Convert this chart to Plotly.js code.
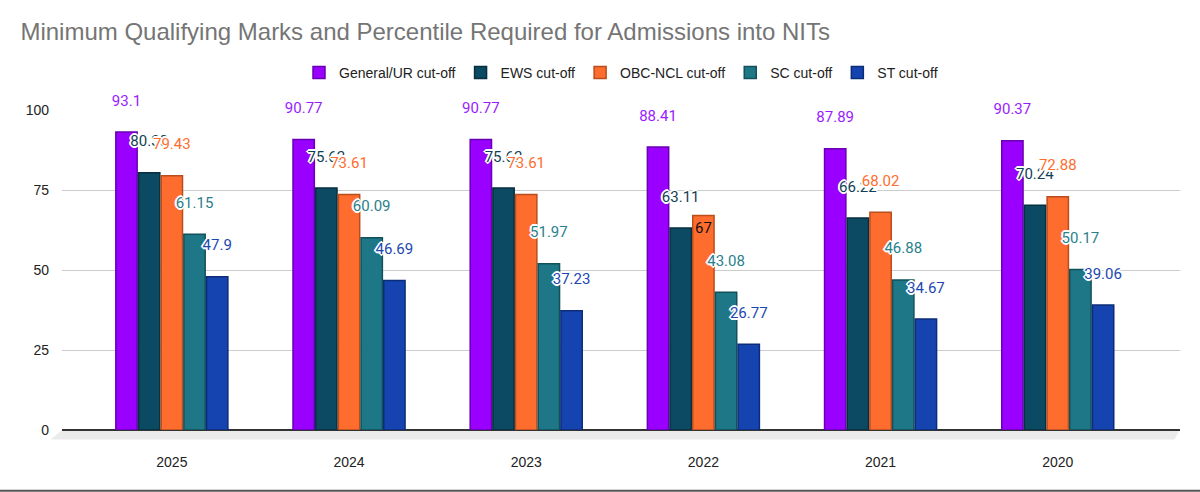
<!DOCTYPE html>
<html>
<head>
<meta charset="utf-8">
<script src="https://cdn.plot.ly/plotly-3.0.1.min.js"></script>
<style>
  body { margin: 0; background: #fff; }
  #grafica { width: 1200px; height: 492px; }
</style>
</head>
<body>
<div id="grafica"></div>
<script>
const anios = ["2025", "2024", "2023", "2022", "2021", "2020"];

const general = [93.1, 90.77, 90.77, 88.41, 87.89, 90.37];
const ews = [80.38, 75.62, 75.62, 63.11, 66.22, 70.24];
const obc = [79.43, 73.61, 73.61, 67, 68.02, 72.88];
const sc = [61.15, 60.09, 51.97, 43.08, 46.88, 50.17];
const st = [47.9, 46.69, 37.23, 26.77, 34.67, 39.06];

const series = [
  { nombre: "General/UR cut-off", valores: general, color: "#9900ff", borde: "#6a00b3", texto: "#9a1cff" },
  { nombre: "EWS cut-off", valores: ews, color: "#0b4a62", borde: "#062f3f", texto: "#123f55" },
  { nombre: "OBC-NCL cut-off", valores: obc, color: "#ff6d2e", borde: "#b84d1e", texto: "#ff6d2e" },
  { nombre: "SC cut-off", valores: sc, color: "#1e7786", borde: "#12515b", texto: "#2a7f8c" },
  { nombre: "ST cut-off", valores: st, color: "#1544b0", borde: "#0c2c78", texto: "#1c47b0" }
];

// halo blanco alrededor de las etiquetas
const halo = "1px 1px 0 #fff, -1px -1px 0 #fff, 1px -1px 0 #fff, -1px 1px 0 #fff, 2px 0 0 #fff, -2px 0 0 #fff, 0 2px 0 #fff, 0 -2px 0 #fff";

const trazas = series.map(s => {
  // en el original la etiqueta OBC de 2022 va dentro de la barra, en negro
  const dentro = s.nombre === "OBC-NCL cut-off";
  return {
    type: "bar",
    name: s.nombre,
    x: anios,
    y: s.valores,
    marker: { color: s.color, line: { color: s.borde, width: 1.5 } },
    text: s.valores.map(v => String(v)),
    texttemplate: anios.map((a, i) => (dentro && a === "2022") ? "%{text}" : "%{text}<br> "),
    textposition: anios.map(a => (dentro && a === "2022") ? "inside" : "outside"),
    insidetextanchor: "end",
    constraintext: "none",
    cliponaxis: false,
    textfont: { family: "Roboto, Arial, sans-serif", size: 15, color: s.texto, shadow: halo },
    insidetextfont: { family: "Roboto, Arial, sans-serif", size: 15, color: "#111", shadow: "none" },
    hoverinfo: "none"
  };
});

const layout = {
  width: 1200,
  height: 492,
  paper_bgcolor: "#fff",
  plot_bgcolor: "#fff",
  font: { family: "Liberation Sans, Arial, sans-serif", size: 14, color: "#222" },
  title: {
    text: "Minimum Qualifying Marks and Percentile Required for Admissions into NITs",
    x: 0.017,
    xanchor: "left",
    y: 0.935,
    yanchor: "middle",
    font: { family: "Liberation Sans, Arial, sans-serif", size: 24, color: "#757575" }
  },
  showlegend: true,
  legend: {
    orientation: "h",
    x: 0.5,
    xanchor: "center",
    y: 1.116,
    yanchor: "middle",
    font: { size: 14, color: "#222" },
    traceorder: "normal"
  },
  barmode: "group",
  bargap: 0.36,
  bargroupgap: 0.06,
  margin: { t: 110, b: 62, l: 62, r: 20 },
  xaxis: {
    type: "category",
    range: [-0.62, 5.69],
    showgrid: false,
    showline: false,
    ticks: "",
    ticklabelstandoff: 22,
    tickfont: { size: 14, color: "#222" }
  },
  yaxis: {
    range: [0, 100],
    tickvals: [0, 25, 50, 75, 100],
    showgrid: true,
    gridcolor: "#cccccc",
    gridwidth: 1,
    zeroline: true,
    zerolinecolor: "#333333",
    zerolinewidth: 1.5,
    ticks: "",
    ticklabelstandoff: 12,
    tickfont: { size: 14, color: "#222" }
  },
  shapes: [
    {
      type: "path",
      xref: "paper", yref: "paper",
      path: "M 0 0 L 1 0 L 0.995 -0.03 L -0.01 -0.03 Z",
      fillcolor: "#ebebeb",
      line: { width: 0 },
      layer: "below"
    },
    {
      type: "line",
      xref: "paper", yref: "paper",
      x0: -0.06, x1: 1.02, y0: -0.19, y1: -0.19,
      line: { color: "#555", width: 2 }
    }
  ]
};

Plotly.newPlot("grafica", trazas, layout, { staticPlot: true, displayModeBar: false });
</script>
</body>
</html>
